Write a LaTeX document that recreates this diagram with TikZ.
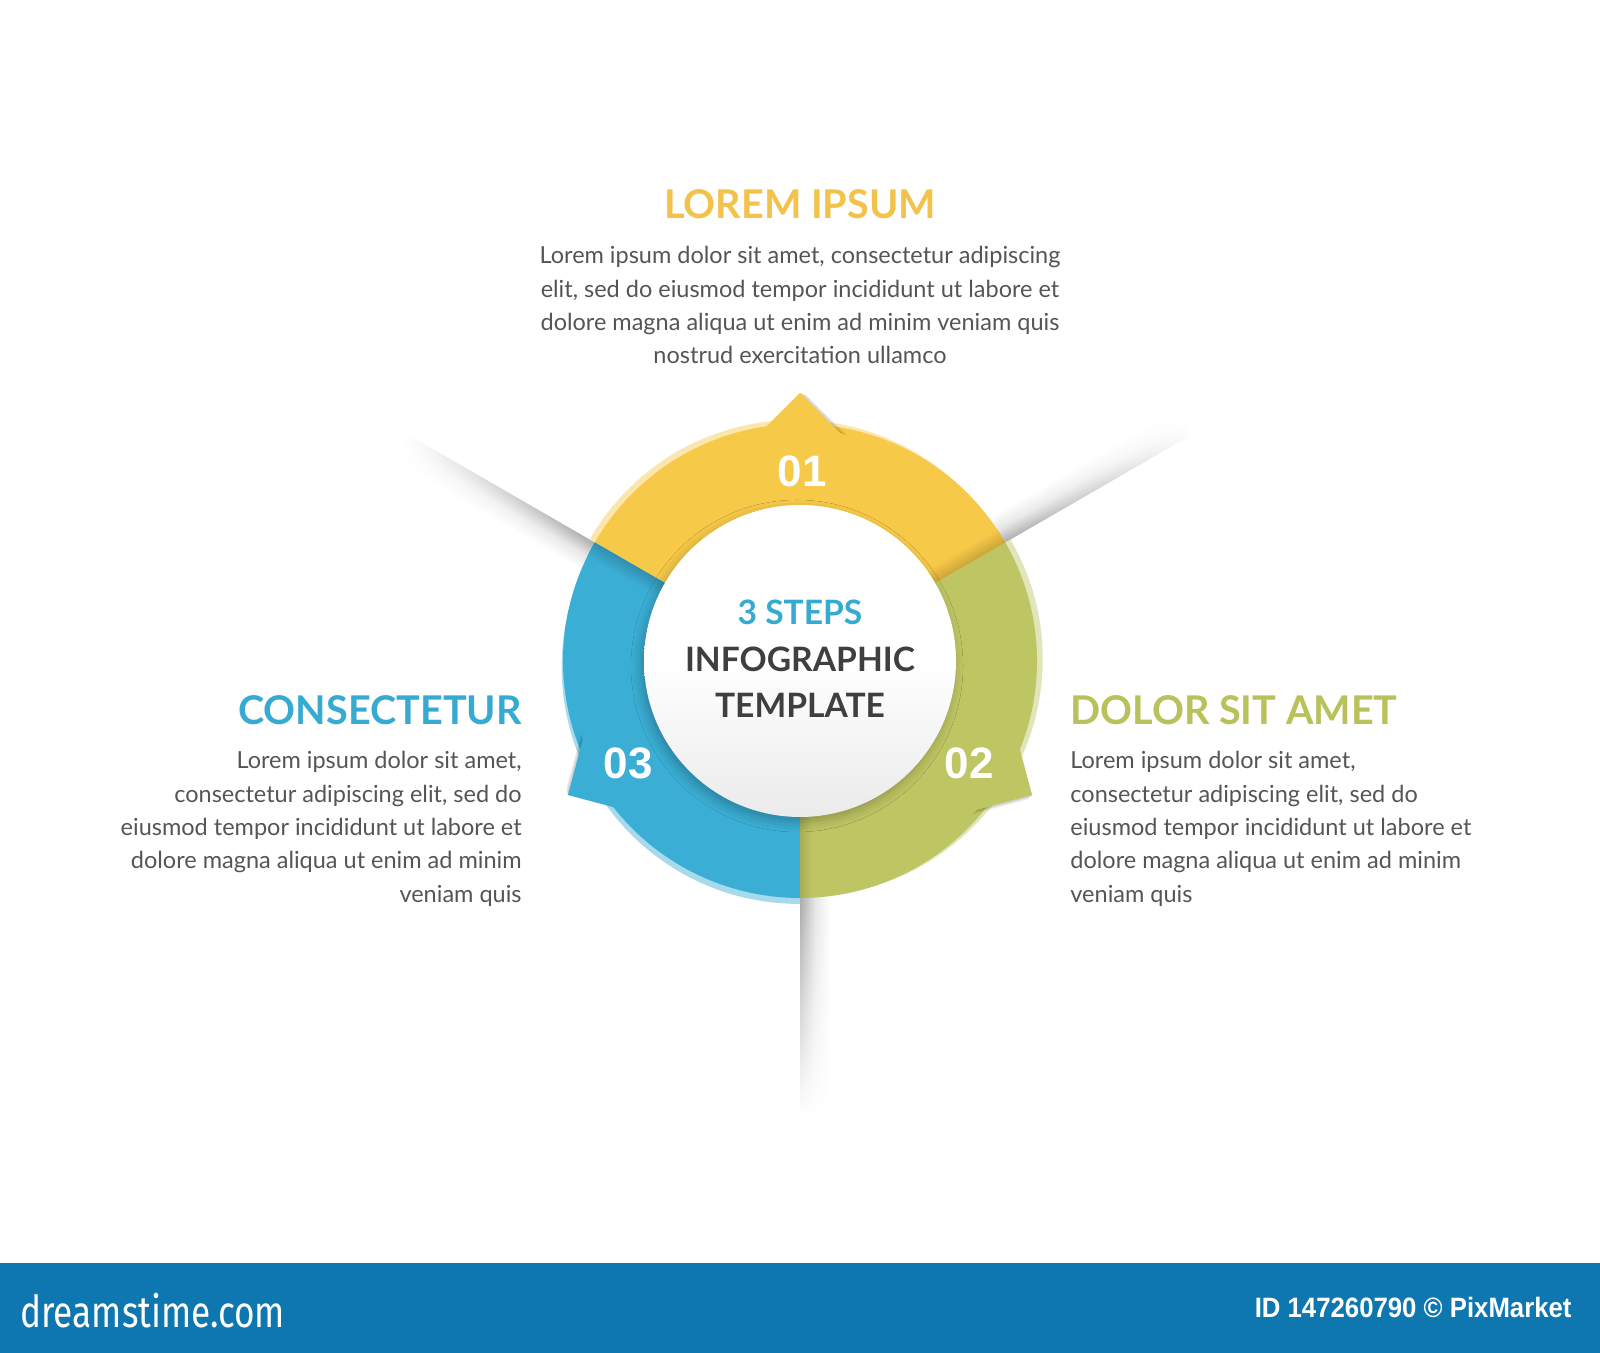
\documentclass[tikz,border=0pt]{standalone}
\usepackage{fontspec}
\setmainfont{Lato}
\newfontfamily\numfont{Liberation Sans}
\newfontfamily\idfont[FakeStretch=0.92]{Liberation Sans}
\newfontfamily\logofont[FakeStretch=0.8]{Fira Sans}
\usetikzlibrary{shadows.blur,fadings}
\definecolor{cyel}{HTML}{F7C948}
\definecolor{cgrn}{HTML}{BEC563}
\definecolor{cblu}{HTML}{3BAED5}
\definecolor{tyel}{HTML}{F3C24A}
\definecolor{tgrn}{HTML}{B9C15A}
\definecolor{tblu}{HTML}{37AAD1}
\definecolor{ctext}{HTML}{555555}
\definecolor{cdark}{HTML}{3F3F3F}
\definecolor{cband}{HTML}{0F77AF}
\tikzfading[name=fadein, left color=transparent!100, right color=transparent!0]
\begin{document}
\begin{tikzpicture}[x=0.5pt,y=0.5pt,
  titletext/.style={font=\bfseries\fontsize{19.8}{24}\selectfont, inner sep=0pt},
  bodytext/.style={font=\fontsize{11.75}{16.7}\selectfont, text=ctext, inner sep=0pt},
  ctrtext/.style={font=\bfseries\fontsize{16.8}{20}\selectfont, inner sep=0pt},
  numtext/.style={font=\numfont\bfseries\fontsize{22}{24}\selectfont, text=white, inner sep=0pt}]
\useasboundingbox (0,0) rectangle (1600,1353);
\fill[white] (0,0) rectangle (1600,1353);
\coordinate (c) at (800,692);

% fold shadows
\foreach \a in {150,30,270} {
  \begin{scope}[transform canvas={shift={(800,692)}, rotate=\a}]
    \shade[bottom color=black!34, top color=white, middle color=black!10] (230,0) rectangle (452,30);
    \fill[white, path fading=fadein] (230,-1) rectangle (453,31);
  \end{scope}
}

% lighter rims
\begin{scope}
  \clip (c) -- ++(30:300) arc[start angle=30,end angle=150,radius=300] -- cycle;
  \fill[cyel!45!white] ([shift={(-4.5,4)}]c) circle (237);
\end{scope}
\begin{scope}
  \clip (c) -- ++(-90:300) arc[start angle=-90,end angle=30,radius=300] -- cycle;
  \fill[cgrn!45!white] ([shift={(5.7,1.9)}]c) circle (237);
\end{scope}
\begin{scope}
  \clip (c) -- ++(150:300) arc[start angle=150,end angle=270,radius=300] -- cycle;
  \fill[cblu!45!white] ([shift={(-1.3,-5.9)}]c) circle (237);
\end{scope}

% ring segments
\fill[cyel] (c) -- ++(30:237) arc[start angle=30,end angle=150,radius=237] -- cycle;
\fill[cgrn] (c) -- ++(-90:237) arc[start angle=-90,end angle=30,radius=237] -- cycle;
\fill[cblu] (c) -- ++(150:237) arc[start angle=150,end angle=270,radius=237] -- cycle;

% dark bands at segment starts
\begin{scope}[transform canvas={shift={(800,692)}, rotate=30}]
  \clip (0,0) circle (237);
  \shade[bottom color=cyel!82!black, top color=cyel] (140,0) rectangle (240,16);
\end{scope}
\begin{scope}[transform canvas={shift={(800,692)}, rotate=150}]
  \clip (0,0) circle (237);
  \shade[bottom color=cblu!82!black, top color=cblu] (140,0) rectangle (240,16);
\end{scope}
\begin{scope}[transform canvas={shift={(800,692)}, rotate=270}]
  \clip (0,0) circle (237);
  \shade[bottom color=cgrn!88!black, top color=cgrn] (140,0) rectangle (240,12);
\end{scope}

% flaps
\foreach \phi/\col in {90/cyel, -30/cgrn, 210/cblu} {
  \begin{scope}[shift={(c)}, rotate=\phi-90]
    \foreach \k in {1,...,7} {
      \fill[black, opacity=0.03] (0,268) -- (40,228) -- ([shift={(\k*1.1,-\k*0.4)}]40,228) -- ([shift={(\k*1.1,-\k*0.4)}]0,268) -- cycle;
    }
    \fill[\col] (0,268) -- (56,212) -- (-56,212) -- cycle;
  \end{scope}
}

% inner white circle
\path[blur shadow={shadow xshift=-1.5pt, shadow yshift=-2.5pt, shadow blur radius=5pt, shadow opacity=25},
      top color=white, bottom color=black!8, middle color=white] (c) circle (156);

% centre text
\node[ctrtext, text=tblu] (steps) at (800,741) {3 STEPS};
\node[ctrtext, text=cdark] (info) at (800,694) {INFOGRAPHIC};
\node[ctrtext, text=cdark] (tmpl) at (800,648) {TEMPLATE};

% numbers
\node[numtext] (n1) at (802,882) {01};
\node[numtext] (n2) at (969,590) {02};
\node[numtext] (n3) at (628,590) {03};

% titles
\node[titletext, text=tyel] (t1) at (800,1149) {LOREM IPSUM};
\node[titletext, text=tblu, anchor=east] (t3) at (522,643) {CONSECTETUR};
\node[titletext, text=tgrn, anchor=west] (t2) at (1070,643) {DOLOR SIT AMET};

% body texts
\node[bodytext, anchor=north, align=center] (b1) at (800,1107)
  {Lorem ipsum dolor sit amet, consectetur adipiscing\\
   elit, sed do eiusmod tempor incididunt ut labore et\\
   dolore magna aliqua ut enim ad minim veniam quis\\
   nostrud exercitation ullamco};
\node[bodytext, anchor=north east, align=right] (b3) at (522,602)
  {Lorem ipsum dolor sit amet,\\
   consectetur adipiscing elit, sed do\\
   eiusmod tempor incididunt ut labore et\\
   dolore magna aliqua ut enim ad minim\\
   veniam quis};
\node[bodytext, anchor=north west, align=left] (b2) at (1070,602)
  {Lorem ipsum dolor sit amet,\\
   consectetur adipiscing elit, sed do\\
   eiusmod tempor incididunt ut labore et\\
   dolore magna aliqua ut enim ad minim\\
   veniam quis};

% banner
\fill[cband] (0,0) rectangle (1600,90);
\node[anchor=west, inner sep=0pt, text=white, font=\logofont\fontsize{22}{24}\selectfont] (logo) at (20,42) {dreamstime.com};
\node[anchor=east, inner sep=0pt, text=white, font=\idfont\bfseries\fontsize{14}{16}\selectfont] (idtext) at (1572,46) {ID 147260790 © PixMarket};
\end{tikzpicture}
\end{document}
